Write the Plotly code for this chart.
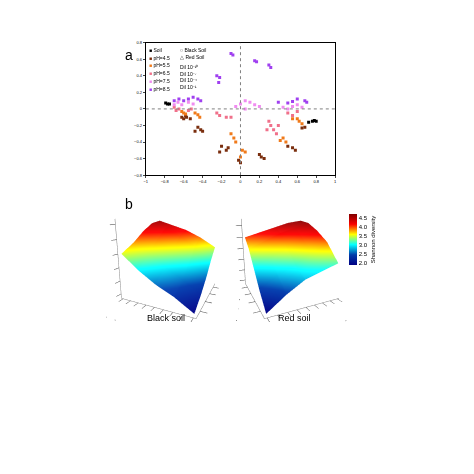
import plotly.graph_objects as go

# panel a: scatter points per group (x, y)
soil_x = [-0.79, -0.77, -0.75, 0.78, 0.8, 0.76, 0.72]
soil_y = [0.07, 0.06, 0.06, -0.14, -0.15, -0.15, -0.16]
ph45_x = [-0.62, -0.6, -0.57, -0.53, -0.58, -0.45, -0.42, -0.4, -0.48, -0.2, -0.15, -0.13, -0.22, 0.2, 0.22, 0.25, 0.5, 0.55, 0.58, 0.65, 0.68, -0.02, 0.0]
ph45_y = [-0.1, -0.12, -0.1, -0.12, -0.08, -0.22, -0.25, -0.27, -0.27, -0.45, -0.5, -0.47, -0.52, -0.55, -0.58, -0.6, -0.45, -0.47, -0.5, -0.23, -0.22, -0.62, -0.65]
ph55_x = [-0.62, -0.6, -0.58, -0.48, -0.45, -0.43, -0.1, -0.07, -0.05, 0.02, 0.05, 0.0, 0.42, 0.45, 0.48, 0.6, 0.62, 0.65, 0.55]
ph55_y = [-0.03, -0.05, -0.06, -0.05, -0.07, -0.1, -0.3, -0.35, -0.4, -0.5, -0.52, -0.58, -0.38, -0.35, -0.4, -0.12, -0.15, -0.18, -0.12]
ph65_x = [-0.7, -0.68, -0.65, -0.55, -0.52, -0.25, -0.22, -0.15, -0.1, 0.3, 0.32, 0.35, 0.38, 0.28, 0.4, 0.5, 0.55, 0.6]
ph65_y = [0.02, -0.02, 0.0, -0.02, 0.0, -0.05, -0.08, -0.1, -0.1, -0.15, -0.2, -0.25, -0.3, -0.25, -0.2, -0.05, -0.08, -0.03]
ph75_x = [-0.7, -0.66, -0.62, -0.55, -0.5, -0.05, 0.0, 0.05, 0.1, 0.15, 0.2, 0.05, 0.45, 0.5, 0.55, 0.6, 0.65]
ph75_y = [0.05, 0.08, 0.05, 0.08, 0.06, 0.03, 0.06, 0.1, 0.08, 0.05, 0.03, 0.0, 0.02, 0.0, 0.03, 0.05, 0.02]
ph85_x = [-0.7, -0.65, -0.6, -0.55, -0.5, -0.45, -0.42, -0.25, -0.22, -0.23, -0.1, -0.08, 0.15, 0.17, 0.3, 0.32, 0.4, 0.5, 0.55, 0.6, 0.68, 0.7]
ph85_y = [0.1, 0.12, 0.1, 0.12, 0.14, 0.12, 0.1, 0.4, 0.38, 0.32, 0.67, 0.65, 0.58, 0.57, 0.53, 0.5, 0.08, 0.07, 0.09, 0.12, 0.1, 0.08]

groups = [
    ("Soil", soil_x, soil_y, "black"),
    ("pH=4.5", ph45_x, ph45_y, "#7a2e0e"),
    ("pH=5.5", ph55_x, ph55_y, "#f07a1a"),
    ("pH=6.5", ph65_x, ph65_y, "#f0708a"),
    ("pH=7.5", ph75_x, ph75_y, "#f08cf0"),
    ("pH=8.5", ph85_x, ph85_y, "#a040f0"),
]
size_labels = ["Dil 10⁻¹⁰", "Dil 10⁻⁷", "Dil 10⁻⁴", "Dil 10⁻¹"]

# panel b: Shannon diversity surfaces (rows = Lg(Dil), cols = pH)
grid_ph = [4.5, 5.5, 6.5, 7.5, 8.5]
grid_dil = [-10, -8, -6, -4, -2]
black_z = [
    [4.6, 4.5, 4.2, 3.8, 3.5],
    [4.4, 4.3, 3.9, 3.4, 3.0],
    [4.2, 4.0, 3.5, 3.0, 2.6],
    [3.9, 3.6, 3.1, 2.6, 2.3],
    [3.5, 3.1, 2.6, 2.2, 1.9],
]
red_z = [
    [4.7, 4.6, 4.3, 3.9, 3.2],
    [4.6, 4.4, 4.0, 3.5, 3.0],
    [4.4, 4.2, 3.6, 3.1, 2.8],
    [4.2, 3.9, 3.3, 2.8, 2.4],
    [4.0, 3.6, 3.0, 2.4, 1.9],
]

W = 458  # rendered page is offset by about 8px


def px(x):
    return (x - 8) / W


def py(y):
    return 1 - (y - 8) / W


fig = go.Figure()
for name, xs, ys, col in groups:
    fig.add_trace(go.Scatter(x=xs, y=ys, mode="markers", name=name, showlegend=False,
                             marker=dict(color=col, size=3, symbol="square")))

fig.add_trace(go.Surface(x=grid_ph, y=grid_dil, z=black_z, scene="scene",
                         colorscale="Jet", cmin=1.9, cmax=4.7, showscale=False))
fig.add_trace(go.Surface(x=grid_dil, y=grid_ph, z=[list(r) for r in zip(*red_z)], scene="scene2",
                         colorscale="Jet", cmin=1.9, cmax=4.7,
                         colorbar=dict(x=px(340), xanchor="left", y=py(239), len=72 / W,
                                       thickness=8, tickfont=dict(size=6),
                                       tickvals=[2.0, 2.5, 3.0, 3.5, 4.0, 4.5],
                                       ticktext=["2.0", "2.5", "3.0", "3.5", "4.0", "4.5"],
                                       title=dict(text="Shannon diversity", side="right",
                                                  font=dict(size=6)))))

ax3 = dict(showbackground=False, tickfont=dict(size=4), showgrid=False,
           showline=True, linecolor="gray", ticks="outside")
legend_ann = []
for i, (name, _, _, col) in enumerate(groups):
    legend_ann.append(dict(text=f"<span style='color:{col}'>■</span> {name}",
                           x=px(146), y=py(42 + i * 8), xref="paper", yref="paper",
                           xanchor="left", yanchor="top",
                           showarrow=False, font=dict(size=5)))
legend_ann.append(dict(text="○ Black Soil<br>△ Red Soil", x=px(177), y=py(42), xref="paper",
                       yref="paper", xanchor="left", yanchor="top", showarrow=False,
                       font=dict(size=5), align="left"))
legend_ann.append(dict(text="<br>".join(size_labels), x=px(177), y=py(60), xref="paper",
                       yref="paper", xanchor="left", yanchor="top", showarrow=False,
                       font=dict(size=5), align="left"))

fig.update_layout(
    width=W, height=W, paper_bgcolor="white", plot_bgcolor="white",
    margin=dict(l=0, r=0, t=0, b=0), showlegend=False,
    font=dict(family="Liberation Sans", color="black"),
    xaxis=dict(domain=[px(145), px(336)], range=[-1, 1], dtick=0.2, tickfont=dict(size=4),
               showgrid=False, zeroline=False, mirror=True, showline=True,
               linecolor="black", ticks="outside", ticklen=2),
    yaxis=dict(domain=[py(174), py(40)], range=[-0.8, 0.8], dtick=0.2, tickfont=dict(size=4),
               showgrid=False, zeroline=False, mirror=True, showline=True,
               linecolor="black", ticks="outside", ticklen=2),
    scene=dict(domain=dict(x=[px(105), px(240)], y=[py(322), py(190)]),
               xaxis=dict(title=dict(text="pH", font=dict(size=6)), **ax3),
               yaxis=dict(title=dict(text="Lg(Dil)", font=dict(size=6)), **ax3),
               zaxis=dict(title=dict(text=""), **ax3),
               camera=dict(eye=dict(x=1.9, y=0.9, z=0.5)),
               aspectmode="manual", aspectratio=dict(x=1, y=1, z=1.0)),
    scene2=dict(domain=dict(x=[px(228), px(348)], y=[py(322), py(190)]),
                xaxis=dict(title=dict(text="Lg(Dil)", font=dict(size=6)), **ax3),
                yaxis=dict(title=dict(text="pH", font=dict(size=6)), **ax3),
                zaxis=dict(title=dict(text=""), **ax3),
                camera=dict(eye=dict(x=0.9, y=1.9, z=0.5)),
                aspectmode="manual", aspectratio=dict(x=1, y=1, z=1.0)),
    shapes=[
        dict(type="line", xref="x", yref="y", x0=-1, x1=1, y0=0, y1=0,
             line=dict(dash="dot", width=1, color="gray")),
        dict(type="line", xref="x", yref="y", x0=0, x1=0, y0=-0.8, y1=0.8,
             line=dict(dash="dot", width=1, color="gray")),
    ],
    annotations=legend_ann + [
        dict(text="a", x=px(122), y=py(42), xref="paper", yref="paper",
             showarrow=False, font=dict(size=14)),
        dict(text="b", x=px(122), y=py(203), xref="paper", yref="paper",
             showarrow=False, font=dict(size=14)),
        dict(text="Black soil", x=px(165), y=py(325), xref="paper", yref="paper",
             showarrow=False, font=dict(size=9)),
        dict(text="Red soil", x=px(295), y=py(325), xref="paper", yref="paper",
             showarrow=False, font=dict(size=9)),
    ],
)

fig.write_html("out.html")
